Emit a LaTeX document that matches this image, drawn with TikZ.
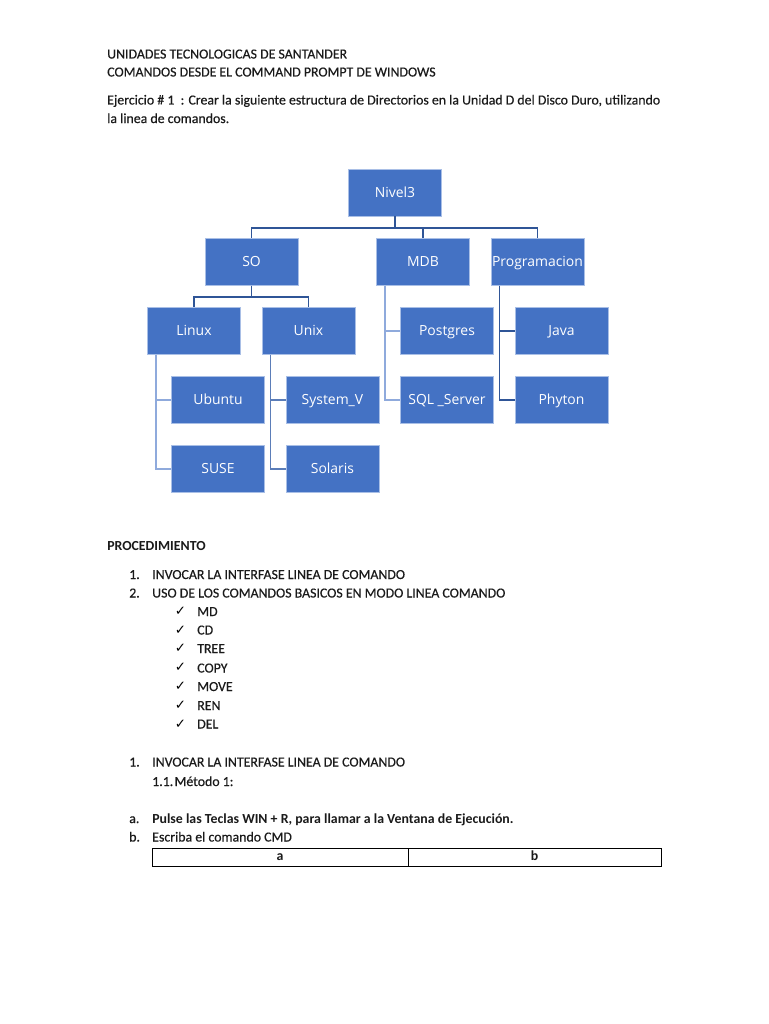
\documentclass[tikz,border=0pt]{standalone}
\usepackage{fontspec}
\setmainfont{Carlito}
\newfontfamily\boxfont{Open Sans}
\newfontfamily\tickfont{DejaVu Sans}
\newfontfamily\semifont[FakeBold=0.4]{Carlito}
\definecolor{boxblue}{HTML}{4472C4}
\definecolor{boxedge}{HTML}{A9BFE6}
\definecolor{linkdark}{HTML}{2F5597}
\definecolor{linklight}{HTML}{8FAADC}
\definecolor{linkmid}{HTML}{5B7DB8}
\definecolor{ink}{HTML}{1A1A1A}
\tikzset{
  dirbox/.style={draw=boxedge,line width=0.3pt,fill=boxblue,text=white,minimum width=70pt,minimum height=35.3pt,inner sep=0pt,text height=8.4pt,text depth=1.4pt,font=\boxfont\fontsize{10.45}{12}\selectfont},
  link/.style={draw=linkdark,line width=1.2pt},
  linkm/.style={draw=linkmid,line width=0.9pt},
  linkl/.style={draw=linklight,line width=1.1pt},
  doc/.style={anchor=base west,inner sep=0pt,text=ink,font=\semifont\fontsize{10.38}{12}\selectfont},
  docb/.style={doc,font=\bfseries\fontsize{10.38}{12}\selectfont},
  tick/.style={anchor=base west,inner sep=0pt,text=black,font=\tickfont\fontsize{10}{12}\selectfont},
  cell/.style={draw=black,line width=0.7pt,inner sep=0pt},
  celltxt/.style={anchor=base,inner sep=0pt,text=ink,font=\bfseries\fontsize{10.38}{12}\selectfont}
}
\begin{document}
\begin{tikzpicture}[x=0.75pt,y=-0.75pt]
\useasboundingbox[fill=white] (0,0) rectangle (768,1024);
\node[doc] (t1) at (107,58.5) {UNIDADES TECNOLOGICAS DE SANTANDER};
\node[doc] (t2) at (107,76.5) {COMANDOS DESDE EL COMMAND PROMPT DE WINDOWS};
\node[doc] (t3) at (107,104.5) {Ejercicio \# 1~ : Crear la siguiente estructura de Directorios en la Unidad D del Disco Duro, utilizando};
\node[doc] (t4) at (107,123) {la linea de comandos.};
\node[dirbox] (nivel) at (395,192.5) {Nivel3};
\node[dirbox] (so) at (251.5,262) {SO};
\node[dirbox] (mdb) at (423,262) {MDB};
\node[dirbox] (prog) at (537.5,262) {Programacion};
\node[dirbox] (linux) at (194,331) {Linux};
\node[dirbox] (unix) at (308.5,331) {Unix};
\node[dirbox] (postgres) at (447,331) {Postgres};
\node[dirbox] (java) at (561.5,331) {Java};
\node[dirbox] (ubuntu) at (218,400) {Ubuntu};
\node[dirbox] (system) at (332.5,400) {System\_V};
\node[dirbox] (sql) at (447,400) {SQL \_Server};
\node[dirbox] (phyton) at (561.5,400) {Phyton};
\node[dirbox] (suse) at (218,469) {SUSE};
\node[dirbox] (solaris) at (332.5,469) {Solaris};
\draw[link] (nivel.south) -- ++(0,11.5) -| (so.north);
\draw[link] (nivel.south) -- ++(0,11.5) -| (mdb.north);
\draw[link] (nivel.south) -- ++(0,11.5) -| (prog.north);
\draw[link] (so.south) -- ++(0,11) -| (linux.north);
\draw[link] (so.south) -- ++(0,11) -| (unix.north);
\draw[linkl] ([xshift=6.75pt]linux.south west) |- (ubuntu.west);
\draw[linkl] ([xshift=6.75pt]linux.south west) |- (suse.west);
\draw[linkm] ([xshift=6.75pt]unix.south west) |- (system.west);
\draw[linkm] ([xshift=6.75pt]unix.south west) |- (solaris.west);
\draw[linkl] ([xshift=6.75pt]mdb.south west) |- (postgres.west);
\draw[linkl] ([xshift=6.75pt]mdb.south west) |- (sql.west);
\draw[link] ([xshift=6.75pt]prog.south west) |- (java.west);
\draw[link] ([xshift=6.75pt]prog.south west) |- (phyton.west);
\node[docb] (proc) at (107,550) {PROCEDIMIENTO};
\node[doc] (n1) at (129,579) {1.};
\node[doc] (l1) at (152,579) {INVOCAR LA INTERFASE LINEA DE COMANDO};
\node[doc] (n2) at (129,597.5) {2.};
\node[doc] (l2) at (152,597.5) {USO DE LOS COMANDOS BASICOS EN MODO LINEA COMANDO};
\node[tick] (k1) at (174.5,615.5) {✓}; \node[doc] (c1) at (197,616) {MD};
\node[tick] (k2) at (174.5,634) {✓}; \node[doc] (c2) at (197,634.5) {CD};
\node[tick] (k3) at (174.5,652.5) {✓}; \node[doc] (c3) at (197,653) {TREE};
\node[tick] (k4) at (174.5,671.5) {✓}; \node[doc] (c4) at (197,672.5) {COPY};
\node[tick] (k5) at (174.5,690.5) {✓}; \node[doc] (c5) at (197,691) {MOVE};
\node[tick] (k6) at (174.5,709) {✓}; \node[doc] (c6) at (197,710) {REN};
\node[tick] (k7) at (174.5,728) {✓}; \node[doc] (c7) at (197,728.5) {DEL};
\node[doc] (n3) at (129,766.5) {1.};
\node[doc] (l3) at (152,766.5) {INVOCAR LA INTERFASE LINEA DE COMANDO};
\node[doc] (l4) at (152,786) {1.1.\kern1pt Método 1:};
\node[doc] (na) at (129,823) {a.};
\node[docb] (l5) at (152,823) {Pulse las Teclas WIN + R, para llamar a la Ventana de Ejecución.};
\node[doc] (nb) at (129,841.5) {b.};
\node[doc] (l6) at (152,841.5) {Escriba el comando CMD};
\draw[cell] (152,848) rectangle (408,866);
\draw[cell] (408,848) rectangle (661,866);
\node[celltxt] (ca) at (280,860.5) {a};
\node[celltxt] (cb) at (534.5,860.5) {b};
\end{tikzpicture}
\end{document}
